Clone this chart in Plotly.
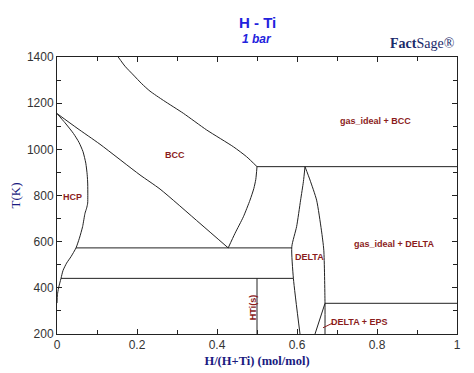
import plotly.graph_objects as go

# ---- data: phase boundaries (x = H/(H+Ti), T in K) ----
upper_x = [0.153, 0.17, 0.191, 0.212, 0.2325, 0.266, 0.316, 0.374, 0.441, 0.474, 0.50]
upper_T = [1400, 1360, 1322, 1284, 1252, 1212, 1156, 1084, 1011, 968, 925]

bcc_left_x = [0.0, 0.05, 0.1075, 0.2075, 0.2575, 0.3575, 0.428]
bcc_left_T = [1155, 1092, 1022, 889, 828, 679, 573]

bcc_right_x = [0.50, 0.497, 0.492, 0.4825, 0.466, 0.445, 0.428]
bcc_right_T = [925, 870, 830, 780, 708, 636, 573]

hcp_x = [0.0, 0.02, 0.041, 0.055, 0.065, 0.072, 0.0755, 0.0768, 0.077, 0.0767, 0.074, 0.07, 0.064, 0.056, 0.0475, 0.035, 0.024, 0.015, 0.01, 0.004, 0.001, 0.0]
hcp_T = [1155, 1115, 1069, 1030, 990, 940, 890, 850, 800, 767, 745, 723, 665, 615, 573, 535, 507, 475, 441, 400, 370, 334]

delta_left_x = [0.62, 0.616, 0.609, 0.599, 0.587, 0.591, 0.6075]
delta_left_T = [925, 860, 780, 665, 578, 441, 200]

delta_right_x = [0.62, 0.6325, 0.649, 0.661, 0.667, 0.67, 0.67]
delta_right_T = [925, 867, 780, 650, 563, 333, 200]

eps_x = [0.645, 0.67]
eps_T = [200, 333]

gas_bcc_x = [0.50, 1.0]
gas_bcc_T = [925, 925]

eut_x = [0.0475, 0.587]
eut_T = [573, 573]

per_x = [0.01, 0.591]
per_T = [441, 441]

hti_x = [0.50, 0.50]
hti_T = [441, 200]

deps_x = [0.67, 1.0]
deps_T = [333, 333]

lines = [
    (upper_x, upper_T), (bcc_left_x, bcc_left_T), (bcc_right_x, bcc_right_T),
    (hcp_x, hcp_T), (delta_left_x, delta_left_T), (delta_right_x, delta_right_T),
    (eps_x, eps_T), (gas_bcc_x, gas_bcc_T), (eut_x, eut_T), (per_x, per_T),
    (hti_x, hti_T), (deps_x, deps_T),
]

labels = ["HCP", "BCC", "gas_ideal + BCC", "gas_ideal + DELTA", "DELTA", "DELTA + EPS"]
label_x = [0.039, 0.295, 0.795, 0.8425, 0.63, 0.755]
label_T = [795, 975, 1123, 588, 532, 250]

x_ticks = [0, 0.2, 0.4, 0.6, 0.8, 1]
y_ticks = [200, 400, 600, 800, 1000, 1200, 1400]

fig = go.Figure()
for xs, ts in lines:
    fig.add_trace(go.Scatter(x=xs, y=ts, mode="lines", line=dict(color="#222222", width=1),
                             line_shape="spline", line_smoothing=0.6,
                             hoverinfo="skip", showlegend=False))

lab_color = "#8B1C1C"
for t, x, y in zip(labels, label_x, label_T):
    fig.add_annotation(x=x, y=y, text="<b>" + t + "</b>", showarrow=False,
                       font=dict(family="Liberation Sans, Arial", size=9, color=lab_color))

fig.add_annotation(x=0.49, y=312, text="<b>HTi(s)</b>", textangle=-90, showarrow=False,
                   font=dict(family="Liberation Sans, Arial", size=9, color=lab_color))
# leader line for DELTA + EPS
fig.add_trace(go.Scatter(x=[0.665, 0.69], y=[227, 248], mode="lines",
                         line=dict(color=lab_color, width=1), hoverinfo="skip", showlegend=False))

# titles
fig.add_annotation(xref="paper", yref="paper", x=0.5, y=1.126, yanchor="middle", text="<b>H - Ti</b>",
                   showarrow=False, font=dict(family="Liberation Sans, Arial", size=15, color="#2222DD"))
fig.add_annotation(xref="paper", yref="paper", x=0.5, y=1.064, yanchor="middle", text="<b><i>1 bar</i></b>",
                   showarrow=False, font=dict(family="Liberation Sans, Arial", size=12, color="#2222DD"))
# logo (text)
fig.add_annotation(xref="paper", yref="paper", x=1.0, y=1.05, xanchor="right", yanchor="middle",
                   text="<b>Fact</b>Sage®", showarrow=False,
                   font=dict(family="Liberation Serif, Times New Roman", size=14, color="#1A2A6A"))

axis_common = dict(showline=True, linecolor="#222222", linewidth=1, mirror="allticks",
                   ticks="inside", ticklen=5, tickcolor="#222222", showgrid=False, zeroline=False,
                   automargin=False,
                   tickfont=dict(family="Liberation Sans, Arial", size=12, color="#333333"))

fig.update_xaxes(range=[0, 1], tickvals=x_ticks, ticktext=["0", "0.2", "0.4", "0.6", "0.8", "1"],
                 minor=dict(dtick=0.1, ticks="inside", ticklen=4, tickcolor="#222222"),
                 title=dict(text="<b>H/(H+Ti) (mol/mol)</b>", standoff=4,
                            font=dict(family="Liberation Serif, Times New Roman", size=12.5, color="#1A1A80")),
                 **axis_common)
fig.update_yaxes(range=[200, 1400], tickvals=y_ticks,
                 minor=dict(dtick=100, ticks="inside", ticklen=4, tickcolor="#222222"),
                 title=dict(text="T(K)", standoff=5,
                            font=dict(family="Liberation Serif, Times New Roman", size=13, color="#1A1A80")),
                 **axis_common)

# page body has an 8px margin, so the figure is sized to fit the 474x373 window
fig.update_layout(width=466, height=365, margin=dict(l=49, r=17, t=49, b=39),
                  paper_bgcolor="white", plot_bgcolor="white")

fig.write_html("out.html")
